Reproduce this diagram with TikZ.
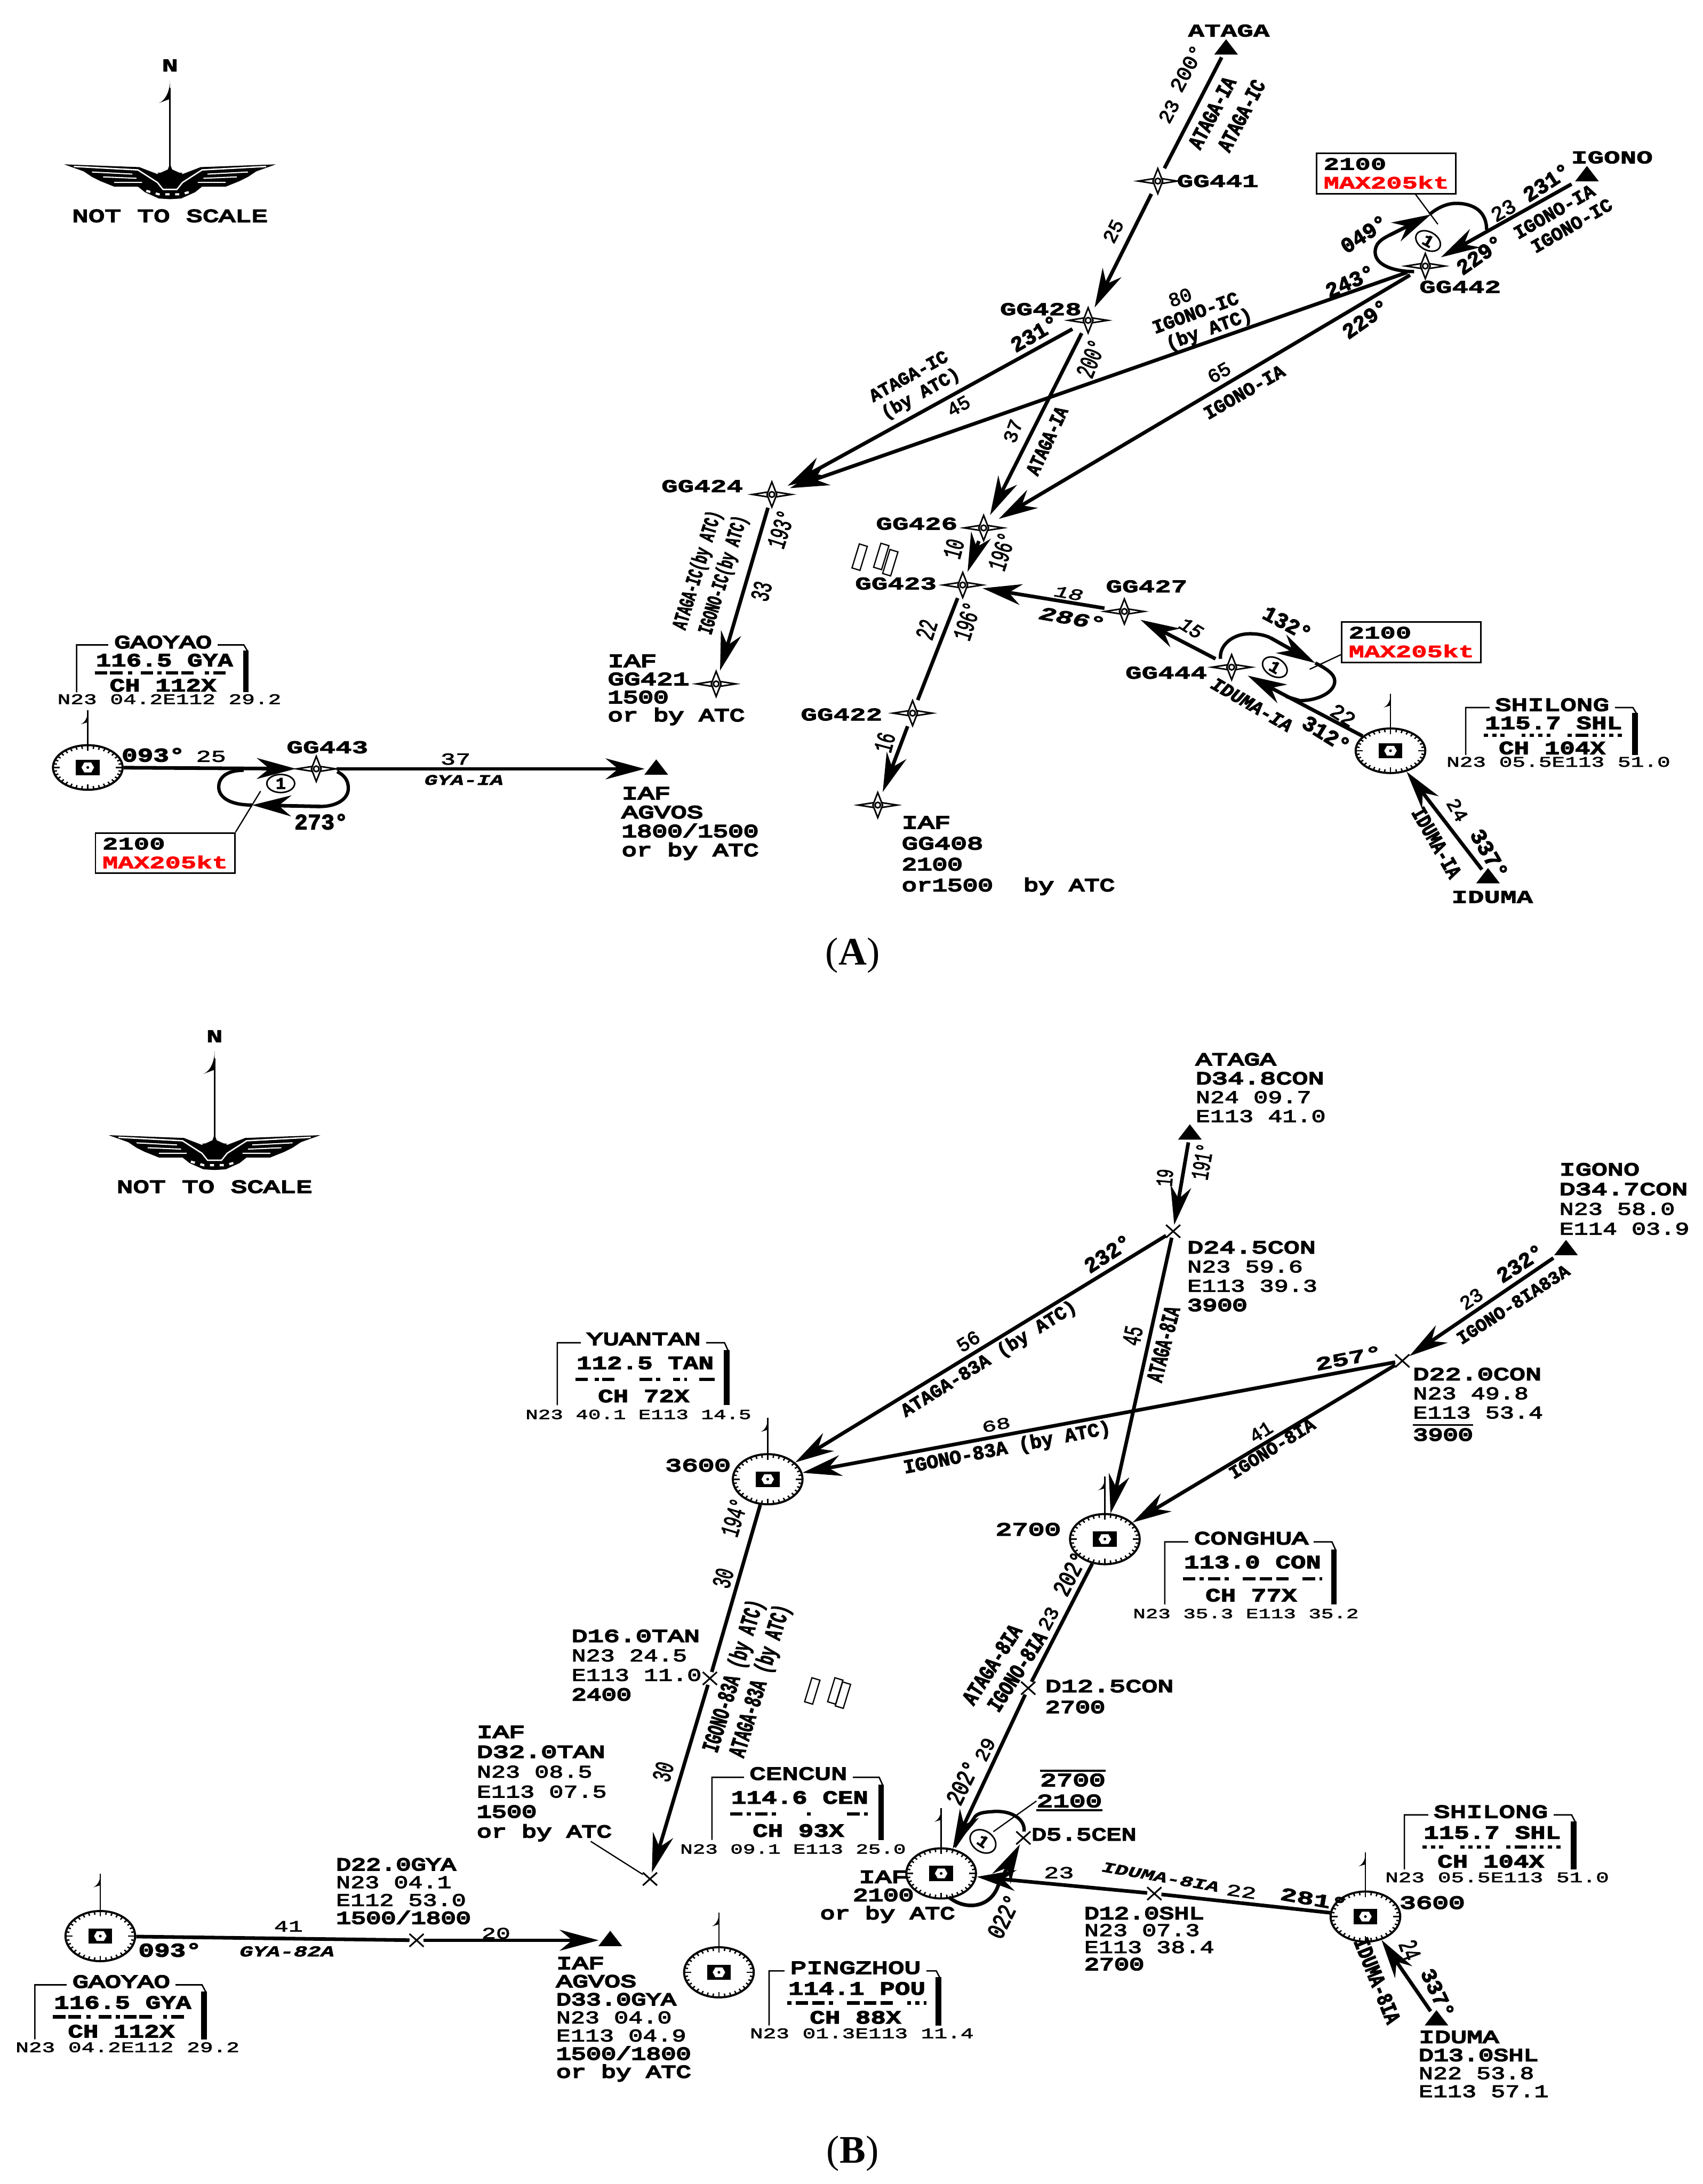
\documentclass[tikz,border=0pt]{standalone}
\usepackage{fontspec}
\usepackage{tikz}
\usetikzlibrary{calc,shapes.geometric,shapes.misc,arrows.meta}
\setmainfont{Liberation Serif}
\newfontfamily\chartfont{Liberation Mono}[FakeStretch=1.5,FakeBold=2.5]
\newfontfamily\midfont{Liberation Mono}[FakeStretch=1.5,FakeBold=7]
\newfontfamily\condfont{Liberation Mono}[FakeStretch=1.4,FakeBold=7]
\newfontfamily\coordfont{Liberation Mono}[FakeStretch=1.35,FakeBold=3.5]
\newfontfamily\rotfont{Liberation Mono}[FakeBold=3]
\newfontfamily\steepfont{Liberation Mono}[FakeStretch=0.75,FakeBold=3]
\newfontfamily\tallfont{Liberation Mono}[FakeStretch=0.6,FakeBold=2]
\tikzset{
  flat/.style={inner sep=0pt,font=\chartfont\fontsize{#1}{#1}\selectfont},
  block/.style 2 args={inner sep=0pt,anchor=north west,align=left,font=\midfont\fontsize{#1}{#2}\selectfont},
  along/.style={inner sep=0pt,font=\rotfont\fontsize{#1}{#1}\selectfont},
  steep/.style={inner sep=0pt,font=\steepfont\fontsize{#1}{#1}\selectfont},
  tall/.style={inner sep=0pt,font=\tallfont\fontsize{#1}{#1}\selectfont},
  arr/.style={-{Stealth[length=28pt,width=15pt,inset=9pt]},line width=2.6pt},
  leg/.style={line width=2.6pt},
  holdline/.style={line width=2.4pt},
  leader/.style={line width=0.9pt},
  fixpt/.style={ellipse,minimum width=29pt,minimum height=19pt,inner sep=0pt},
  fixline/.style={line width=1.1pt,fill=white},
  xfix/.style={cross out,draw,line width=1.2pt,minimum width=9pt,minimum height=8pt,inner sep=0pt},
  apex/.style={isosceles triangle,isosceles triangle stretches,shape border rotate=90,fill=black,minimum width=17pt,minimum height=11pt,inner sep=0pt,outer sep=2pt},
  rose/.style={ellipse,draw,line width=1.5pt,minimum width=50pt,inner sep=0pt},
  holdbox/.style={draw,line width=1.1pt,fill=white,minimum width=100pt,minimum height=29pt,align=left,inner sep=3pt,font=\chartfont\bfseries\fontsize{12.5}{13.5}\selectfont},
  turnno/.style={ellipse,draw,line width=1.1pt,minimum width=19pt,minimum height=13pt,inner sep=0pt,font=\rotfont\bfseries\fontsize{12}{12}\selectfont},
  runway/.style={draw,line width=0.9pt,minimum width=6pt,minimum height=18pt,inner sep=0pt,rotate=-17},
}
\newcommand{\fixmark}[2]{%
  \node[fixpt] (#1) at (#2) {};
  \draw[fixline,shift={(#1.center)}] (-14,0) -- (0,-2.2) -- (14,0) -- (0,2.2) -- cycle;
  \draw[fixline,shift={(#1.center)}] (-3.5,0) -- (0,-9) -- (3.5,0) -- (0,9) -- cycle;
  \draw[fixline,shift={(#1.center)}] (0,0) circle (2);
}
% name, position, half height, mast
\newcommand{\station}[4]{%
  \node[rose,minimum height=#3*2pt] (#1) at (#2) {};
  \foreach \a in {0,10,...,350} \draw[line width=1pt,shift={(#1.center)}] (\a:25 and #3) -- (\a:22.5 and #3-2.5);
  \foreach \a in {0,90,180,270} \draw[line width=1pt,shift={(#1.center)}] (\a:25 and #3) -- (\a:20 and #3-4);
  \fill[shift={(#1.center)}] (-8.5,-5.5) rectangle (8.5,5.5);
  \fill[white,shift={(#1.center)}] (-4.5,0) -- (-2.5,-3.5) -- (2.5,-3.5) -- (4.5,0) -- (2.5,3.5) -- (-2.5,3.5) -- cycle;
  \fill[shift={(#1.center)}] (0,0) circle (1);
  \draw[line width=0.9pt,shift={(#1.center)}] (0,-#3) -- (0,-#4);
  \fill[shift={(#1.center)}] (0,-#4) .. controls (0,-#4+4) and (-1,-#4+8) .. (-5,-#4+10) -- (0,-#4+8.5) -- cycle;
}
% name, left, top, height factor, title, frequency, channel, position, morse
\newcommand{\navbox}[9]{%
  \begin{scope}[shift={(#2,#3)},y=-#4pt]
    \draw[line width=1pt] (0,34) -- (0,0) -- (120,0) -- (123,5);
    \draw[line width=4pt] (121.5,4) -- (121.5,34);
    \node[flat=13,fill=white,inner xsep=4pt] (#1t) at (62,-2) {\midfont #5};
    \node[flat=13.5] (#1f) at (63,11) {\coordfont\bfseries #6};
    \draw[line width=2.4pt,dash pattern=#9] (13,20) -- (113,20);
    \node[flat=13.5] (#1c) at (62,29) {\coordfont\bfseries #7};
    \node[flat=\gz,anchor=west] (#1g) at (\gx,39) {#8};
  \end{scope}
}
\newcommand{\northmark}[3]{%
  \begin{scope}[shift={(#2,#3)}]
    \node[flat=13] (#1n) at (0,-81) {\bfseries N};
    \draw[line width=1.2pt] (0,-65) -- (0,-5);
    \fill (0,-70.5) .. controls (0,-63) and (-3,-56) .. (-8,-54) -- (0,-57) -- cycle;
    \fill (-76,-10) -- (-22,-8) -- (-9,-3) -- (0,-7) -- (9,-3) -- (22,-8) -- (76,-10) -- (62,-5) -- (56,-1) -- (50,2) -- (40,6) -- (23,6) -- (18,10) -- (8,14.5) -- (0,15) -- (-8,14.5) -- (-18,10) -- (-23,6) -- (-40,6) -- (-50,2) -- (-56,-1) -- (-62,-5) -- cycle;
    \draw[white,line width=1pt] (-69,-8.5) -- (-23,-6) -- (-9,3) -- (-5,8) -- (5,8) -- (9,3) -- (23,-6) -- (69,-8.5);
    \draw[white,line width=0.8pt] (-56,-4.5) -- (-27,-3) (-48,-1) -- (-24,0) (-40,3) -- (-20,3) (56,-4.5) -- (27,-3) (48,-1) -- (24,0) (40,3) -- (20,3);
    \draw[white,line width=1.6pt,dash pattern=on 3pt off 4pt] (-17,9) -- (-8,11.5) -- (8,11.5) -- (17,9);
    \node[star,star points=5,star point ratio=2.4,fill=black,minimum size=19pt,inner sep=0pt] (#1s) at (0,-1) {};
    \node[flat=13] (#1l) at (0,27) {\midfont NOT~TO~SCALE};
  \end{scope}
}
\def\gx{-14}
\def\gz{10.5}
\begin{document}
\begin{tikzpicture}[x=1pt,y=-1pt]
  \useasboundingbox (0,0) rectangle (1222,1568);

  % (A)
  \northmark{na}{122}{128}
  \node[apex] (ataga) at (880,35) {};
  \node[apex] (igono) at (1139,126) {};
  \node[apex] (iduma) at (1068,630) {};
  \node[apex] (agvos) at (471,552) {};
  \fixmark{gg441}{831,130}
  \fixmark{gg428}{781,230}
  \fixmark{gg442}{1023,191}
  \fixmark{gg424}{554,355}
  \fixmark{gg426}{706,379}
  \fixmark{gg423}{691,420}
  \fixmark{gg427}{807,439}
  \fixmark{gg444}{884,479}
  \fixmark{gg421}{514,491}
  \fixmark{gg422}{655,512}
  \fixmark{gg408}{630,578}
  \fixmark{gg443}{227,552}
  \station{gyaa}{63,551}{16}{41}
  \station{shla}{998,539}{16}{41}
  \navbox{gyb}{55}{463}{1}{GAOYAO}{116.5~GYA}{CH~112X}{N23~04.2E112~29.2}{on 9pt off 2pt on 9pt off 4pt on 3pt off 6pt on 9pt off 3pt on 3pt off 3pt on 9pt off 2pt on 9pt off 8pt on 3pt off 3pt on 9pt}
  \navbox{shb}{1052}{508}{1}{SHILONG}{115.7~SHL}{CH~104X}{N23~05.5E113~51.0}{on 3pt off 3pt on 3pt off 3pt on 3pt off 12pt on 3pt off 3pt on 3pt off 3pt on 3pt off 3pt on 3pt off 12pt on 3pt off 3pt on 9pt off 3pt on 3pt off 3pt on 3pt}

  \draw[leg] (ataga) -- (gg441);
  \draw[arr] (gg441) -- (gg428);
  \draw[arr] (gg428) -- (gg424);
  \draw[arr] (gg428) -- (gg426);
  \draw[arr] (gg442) -- (gg424);
  \draw[arr] (gg442) -- (gg426);
  \draw[arr] (igono) -- (gg442);
  \draw[arr] (gg426) -- (gg423);
  \draw[leg] (gg423) -- (gg422);
  \draw[arr] (gg422) -- (gg408);
  \draw[arr] (gg424) -- (gg421);
  \draw[arr] (gg427) -- (gg423);
  \draw[arr] (gg444) -- (gg427);
  \draw[arr] (shla) -- (gg444);
  \draw[arr] (iduma) -- (shla);
  \draw[arr] (gyaa) -- (gg443);
  \draw[arr] (gg443) -- (agvos);

  % holding patterns
  \draw[holdline] (1015,195) .. controls (1002,195) and (987,191) .. (987,181) .. controls (987,175) and (991,172) .. (997,169);
  \draw[arr] (997,169) -- (1027,154);
  \draw[holdline] (1026,154) .. controls (1033,148) and (1040,146) .. (1045,146) .. controls (1058,146) and (1067,152) .. (1067,165);
  \node[turnno,rotate=-30] (t1a) at (1025,173) {1};
  \node[holdbox] (hb1) at (995,124.5) {2100\\\textcolor{red}{MAX205kt}};
  \coordinate (hl1) at (1032,161);
  \draw[leader] ([xshift=21pt]hb1.south) -- (hl1);

  \draw[holdline] (876,473) .. controls (875,463) and (885,455) .. (897,455) .. controls (903,455) and (908,456) .. (912,458);
  \draw[arr] (912,458) -- (944,476);
  \draw[holdline] (944,476) .. controls (952,480) and (958,484) .. (958,489) .. controls (958,497) and (946,503) .. (933,503) -- (923,500);
  \node[turnno,rotate=-30] (t1b) at (915,479) {1};
  \node[holdbox] (hb2) at (1013,461) {2100\\\textcolor{red}{MAX205kt}};
  \coordinate (hl2) at (940,480.5);
  \draw[leader] (hb2.west |- 0,470) -- (hl2);

  \draw[holdline] (242,554) .. controls (248,557) and (250,561) .. (250,566) .. controls (250,574) and (241,579) .. (230,579);
  \draw[arr] (230,579) -- (181,578);
  \draw[holdline] (181,578) .. controls (166,578) and (157,573) .. (157,565) .. controls (157,558) and (163,553) .. (175,553);
  \node[turnno,minimum width=20pt,minimum height=13pt] (t1c) at (201.5,562.5) {1};
  \node[holdbox] (hb3) at (118.5,612.5) {2100\\\textcolor{red}{MAX205kt}};
  \coordinate (hl3) at (187,568);
  \draw[leader] (hb3.north east) -- (hl3);

  % waypoint names
  \node[flat=13] (nat) at (882,22) {\bfseries ATAGA};
  \node[flat=13] (nig) at (1157,113) {\bfseries IGONO};
  \node[flat=13] (nid) at (1071,644) {\bfseries IDUMA};
  \node[flat=13] (n441) at (874,130) {\bfseries GG441};
  \node[flat=13] (n428) at (747,222) {\bfseries GG428};
  \node[flat=13] (n442) at (1048,206) {\bfseries GG442};
  \node[flat=13] (n424) at (504,349) {\bfseries GG424};
  \node[flat=13] (n426) at (658,376) {\bfseries GG426};
  \node[flat=13] (n423) at (643,419) {\bfseries GG423};
  \node[flat=13] (n427) at (823,421) {\bfseries GG427};
  \node[flat=13] (n444) at (837,483) {\bfseries GG444};
  \node[flat=13] (n422) at (604,513) {\bfseries GG422};
  \node[flat=13] (n443) at (235,536.5) {\bfseries GG443};
  \node[block={13}{13}] (b421) at (436,470) {IAF\\GG421\\\condfont 1500\\\condfont or~by~ATC};
  \node[block={13}{15}] (b408) at (647,586) {IAF\\GG408\\\condfont 2100\\\condfont or1500~~by~ATC};
  \node[block={13}{13.6}] (bagv) at (446,565) {IAF\\AGVOS\\\condfont 1800/1500\\\condfont or~by~ATC};

  % runway marks
  \node[runway] (rw1) at (617,400) {};
  \node[runway] (rw2) at (632.5,399.5) {};
  \node[runway] (rw3) at (639,404) {};

  % course and distance labels
  \node[along=14,rotate=62] (l1) at (839,80) {23};
  \node[along=15,rotate=62] (l2) at (852,49) {200°};
  \node[steep=15.5,rotate=62] (l3) at (870,81) {\bfseries ATAGA-IA};
  \node[steep=15.5,rotate=62] (l4) at (891,83) {\bfseries ATAGA-IC};
  \node[along=14,rotate=63] (l5) at (799,166) {25};
  \node[along=15.5,rotate=30] (l6) at (742.5,239.5) {\bfseries 231°};
  \node[along=13,rotate=29] (l7) at (652,270) {\bfseries ATAGA-IC};
  \node[along=13,rotate=29] (l8) at (661,283) {\bfseries (by~ATC)};
  \node[along=14,rotate=29] (l9) at (688,291.5) {45};
  \node[tall=19,rotate=68] (l10) at (783,257.5) {200°};
  \node[along=14,rotate=70] (l11) at (727,309.5) {37};
  \node[steep=14.5,rotate=65] (l12) at (751.5,316.5) {\bfseries ATAGA-IA};
  \node[along=14,rotate=20] (l13) at (847,213.5) {80};
  \node[along=13.5,rotate=20] (l14) at (858,224.5) {\bfseries IGONO-IC};
  \node[along=13.5,rotate=20] (l15) at (868,237) {\bfseries (by~ATC)};
  \node[along=15.5,rotate=24] (l16) at (969,202) {\bfseries 243°};
  \node[along=15.5,rotate=35] (l17) at (980,229) {\bfseries 229°};
  \node[along=14,rotate=30] (l18) at (875,267.5) {65};
  \node[along=13.5,rotate=30] (l19) at (893,281.5) {\bfseries IGONO-IA};
  \node[along=15.5,rotate=33] (l20) at (979,168) {\bfseries 049°};
  \node[along=15,rotate=30] (l21) at (1079,151) {23};
  \node[along=15.5,rotate=33] (l22) at (1110,131) {\bfseries 231°};
  \node[along=13.5,rotate=30] (l23) at (1115.5,152) {\bfseries IGONO-IA};
  \node[along=13.5,rotate=30] (l24) at (1128,162) {\bfseries IGONO-IC};
  \node[along=15.5,rotate=35] (l25) at (1062,183) {\bfseries 229°};
  \node[tall=15.3,rotate=73] (l26) at (501,409.5) {\bfseries ATAGA-IC(by~ATC)};
  \node[tall=15.3,rotate=73] (l27) at (519.5,413) {\bfseries IGONO-IC(by~ATC)};
  \node[tall=19,rotate=72] (l28) at (560.5,380) {193°};
  \node[tall=19,rotate=75] (l29) at (546.5,424.5) {33};
  \node[tall=19,rotate=75] (l30) at (684.5,394) {10};
  \node[tall=19,rotate=72] (l31) at (719,396) {196°};
  \node[tall=19,rotate=72] (l32) at (694,446) {196°};
  \node[tall=19,rotate=72] (l33) at (665,452) {22};
  \node[tall=19,rotate=75] (l34) at (635,533) {16};
  \node[flat=11.5,rotate=-10] (l35) at (767,426) {\itshape 18};
  \node[flat=13.5,rotate=-10] (l36) at (770,444) {\bfseries\itshape 286°};
  \node[along=14,rotate=-32] (l37) at (855,451) {\itshape 15};
  \node[along=15.5,rotate=-28] (l38) at (924,447.5) {\bfseries 132°};
  \node[along=13.5,rotate=-30] (l39) at (898.5,506) {\bfseries\itshape IDUMA-IA};
  \node[along=15,rotate=-32] (l40) at (964,513.5) {22};
  \node[along=15.5,rotate=-32] (l41) at (952,527) {\bfseries 312°};
  \node[along=14,rotate=-60] (l42) at (1046,581.5) {24};
  \node[along=16,rotate=-60] (l43) at (1069,613) {\bfseries 337°};
  \node[steep=15.5,rotate=-60] (l44) at (1031,605) {\bfseries IDUMA-IA};
  \node[flat=14] (l45) at (110,542) {\coordfont\bfseries 093°};
  \node[flat=12] (l46) at (151.5,543) {25};
  \node[along=16] (l47) at (230.5,590) {\bfseries 273°};
  \node[flat=12] (l48) at (327,545) {37};
  \node[flat=10.5] (l49) at (333,560) {\bfseries\itshape GYA-IA};

  \node[font=\fontsize{28}{28}\selectfont,inner sep=0pt] (capa) at (612,686) {(\textbf{A})};

  % (B)
  \northmark{nb}{154}{825}
  \node[apex] (atagb) at (854,814) {};
  \node[apex] (igonb) at (1124,897) {};
  \node[apex] (idumb) at (1031,1450) {};
  \node[apex] (agvob) at (438,1393) {};
  \node[xfix] (d245) at (842,884) {};
  \node[xfix] (d220) at (1006.5,977) {};
  \node[xfix] (d160) at (509.5,1205) {};
  \node[xfix] (d320) at (466.5,1349) {};
  \node[xfix] (d125) at (738,1212) {};
  \node[xfix] (d055) at (734.5,1319.5) {};
  \node[xfix] (d120) at (828.5,1359.5) {};
  \node[xfix] (d22g) at (299,1393) {};
  \station{tan}{551,1062}{18}{44}
  \station{con}{793,1105}{18}{45}
  \station{cen}{675.5,1345}{18}{47}
  \station{shlb}{980,1376}{18}{46}
  \station{pou}{516,1416}{18}{43}
  \station{gyab}{72,1390}{18}{45}
  \def\gx{-23}\def\gz{10}
  \navbox{tnb}{400}{964}{1.32}{YUANTAN}{112.5~TAN}{CH~72X}{N23~40.1~E113~14.5}{on 9pt off 5pt on 3pt off 2pt on 9pt off 18pt on 9pt off 3pt on 3pt}
  \navbox{cob}{836}{1107}{1.32}{CONGHUA}{113.0~CON}{CH~77X}{N23~35.3~E113~35.2}{on 9pt off 3pt on 3pt off 3pt on 9pt off 3pt on 3pt off 10pt on 9pt off 3pt on 9pt off 3pt on 9pt off 10pt on 9pt off 3pt on 3pt}
  \navbox{ceb}{511}{1276}{1.32}{CENCUN}{114.6~CEN}{CH~93X}{N23~09.1~E113~25.0}{on 9pt off 3pt on 3pt off 3pt on 9pt off 3pt on 3pt off 22pt on 3pt off 26pt on 9pt off 3pt on 3pt}
  \def\gx{-14}\def\gz{10.5}
  \navbox{sbb}{1008}{1303}{1.15}{SHILONG}{115.7~SHL}{CH~104X}{N23~05.5E113~51.0}{on 3pt off 3pt on 3pt off 3pt on 3pt off 12pt on 3pt off 3pt on 3pt off 3pt on 3pt off 3pt on 3pt off 12pt on 3pt off 3pt on 9pt off 3pt on 3pt off 3pt on 3pt}
  \navbox{pob}{552}{1415}{1.15}{PINGZHOU}{114.1~POU}{CH~88X}{N23~01.3E113~11.4}{on 3pt off 3pt on 9pt off 3pt on 9pt off 3pt on 3pt off 10pt on 9pt off 3pt on 9pt off 3pt on 9pt off 10pt on 3pt off 3pt on 3pt off 3pt on 9pt}
  \navbox{gbb}{25}{1425}{1.15}{GAOYAO}{116.5~GYA}{CH~112X}{N23~04.2E112~29.2}{on 9pt off 2pt on 9pt off 4pt on 3pt off 6pt on 9pt off 3pt on 3pt off 3pt on 9pt off 2pt on 9pt off 8pt on 3pt off 3pt on 9pt}

  \draw[arr] (atagb) -- (d245);
  \draw[arr] (d245) -- (tan);
  \draw[arr] (d245) -- (con);
  \draw[arr] (igonb) -- (d220);
  \draw[arr] (d220) -- (tan);
  \draw[arr] (d220) -- (con);
  \draw[leg] (tan) -- (d160);
  \draw[arr] (d160) -- (d320);
  \draw[leg] (con) -- (d125);
  \draw[arr] (d125) -- (cen);
  \draw[arr] (d120) -- (cen);
  \draw[leg] (shlb) -- (d120);
  \draw[arr] (idumb) -- (shlb);
  \draw[leg] (gyab) -- (d22g);
  \draw[arr] (d22g) -- (agvob);

  % hold at D5.5
  \draw[arr] (681,1362) .. controls (693,1372) and (712,1370) .. (717,1352) -- (d055);
  \draw[holdline] (d055) .. controls (736,1306) and (726,1300) .. (714,1300.5) .. controls (708,1301) and (703,1301) .. (700,1304) -- (685,1326);
  \node[turnno,minimum width=20pt,minimum height=15pt,rotate=-35] (t1d) at (705.5,1322) {1};
  \node[flat=13] (a27) at (770,1278) {\midfont 2700};
  \node[flat=13] (a21) at (767.5,1293) {\midfont 2100};
  \draw[line width=1.6pt] ([yshift=2pt]a27.north west) -- ([yshift=2pt]a27.north east);
  \draw[line width=1.6pt] ([yshift=-2pt]a21.south west) -- ([yshift=-2pt]a21.south east);
  \coordinate (hl4) at (713,1315);
  \draw[leader] (a21.west) -- (hl4);

  \node[block={12.8}{13.6}] (bat) at (858,756) {ATAGA\\D34.8CON\\\coordfont N24~09.7\\\coordfont E113~41.0};
  \node[block={12.8}{14.2}] (big) at (1119,835) {IGONO\\D34.7CON\\\coordfont N23~58.0\\\coordfont E114~03.9};
  \node[block={12.8}{13.8}] (b245) at (852,891) {D24.5CON\\\coordfont N23~59.6\\\coordfont E113~39.3\\\condfont 3900};
  \node[block={12.8}{13.8}] (b220) at (1014,982) {D22.0CON\\\coordfont N23~49.8\\\coordfont E113~53.4};
  \node[flat=12.8,anchor=west] (a39) at (1014,1030) {\condfont 3900};
  \draw[line width=1.2pt] ([yshift=2.5pt]a39.north west) -- ([yshift=2.5pt]a39.north east);
  \node[block={12.8}{14}] (b160) at (410,1170) {D16.0TAN\\\coordfont N23~24.5\\\coordfont E113~11.0\\\condfont 2400};
  \node[block={12.8}{14.3}] (b320) at (342,1239) {IAF\\D32.0TAN\\\coordfont N23~08.5\\\coordfont E113~07.5\\\condfont 1500\\\condfont or~by~ATC};
  \coordinate (hl5) at (424,1322);
  \draw[leader] (hl5) -- (d320);
  \node[block={12.8}{15}] (b125) at (750,1206) {D12.5CON\\\condfont 2700};
  \node[block={12.8}{12.2}] (b120) at (778,1369) {\condfont D12.0SHL\\\coordfont N23~07.3\\\coordfont E113~38.4\\\condfont 2700};
  \node[block={12.8}{13}] (bidu) at (1018,1458) {IDUMA\\\condfont D13.0SHL\\\coordfont N22~53.8\\\coordfont E113~57.1};
  \node[block={12.8}{12.8}] (bd22) at (241,1334) {\condfont D22.0GYA\\\coordfont N23~04.1\\\coordfont E112~53.0\\\condfont 1500/1800};
  \node[block={12.8}{13}] (bagw) at (399,1405) {IAF\\AGVOS\\\condfont D33.0GYA\\\coordfont N23~04.0\\\coordfont E113~04.9\\\condfont 1500/1800\\\condfont or~by~ATC};
  \node[flat=13] (biaf) at (634,1347.5) {\midfont IAF};
  \node[flat=13] (b2100) at (634,1360.5) {\condfont 2100};
  \node[flat=12.8] (borb) at (637,1374.5) {\condfont or~by~ATC};
  \node[flat=12.8] (nd55) at (778,1317) {\condfont D5.5CEN};
  \node[flat=13] (a36a) at (501,1052) {\midfont 3600};
  \node[flat=13] (a27c) at (738,1098) {\midfont 2700};
  \node[flat=13] (a36b) at (1028,1366) {\midfont 3600};

  % runway marks
  \node[runway] (rw4) at (583,1214) {};
  \node[runway] (rw5) at (599.5,1214) {};
  \node[runway] (rw6) at (605,1217) {};

  % course and distance labels
  \node[tall=17,rotate=85] (m1) at (836,845.5) {19};
  \node[tall=18,rotate=80] (m2) at (863,834) {191°};
  \node[along=15.5,rotate=33] (m3) at (795,900) {\bfseries 232°};
  \node[along=14,rotate=32] (m4) at (695,963) {56};
  \node[along=13.5,rotate=32] (m5) at (710,976) {\bfseries ATAGA-83A~(by~ATC)};
  \node[tall=19,rotate=78] (m6) at (813,959) {45};
  \node[tall=17,rotate=76] (m7) at (835,965) {\bfseries ATAGA-8IA};
  \node[along=15.5,rotate=33] (m8) at (1091,907) {\bfseries 232°};
  \node[along=14,rotate=34] (m9) at (1056,932.5) {23};
  \node[along=13,rotate=33] (m10) at (1086,936.5) {\bfseries IGONO-8IA83A};
  \node[flat=13.5,rotate=11] (m11) at (968,975) {\bfseries 257°};
  \node[flat=11.5,rotate=11] (m12) at (715,1023) {68};
  \node[along=14,rotate=11] (m13) at (723,1040) {\bfseries IGONO-83A~(by~ATC)};
  \node[along=14,rotate=32] (m14) at (905,1028) {41};
  \node[along=13,rotate=32] (m15) at (913,1040) {\bfseries IGONO-8IA};
  \node[tall=19,rotate=73] (m16) at (527,1089.5) {194°};
  \node[tall=19,rotate=74] (m17) at (519,1133) {30};
  \node[tall=19,rotate=74] (m18) at (476,1272) {30};
  \node[tall=17.5,rotate=73] (m19) at (527,1203.5) {\bfseries IGONO-83A~(by~ATC)};
  \node[tall=17.5,rotate=73] (m20) at (546,1207) {\bfseries ATAGA-83A~(by~ATC)};
  \node[steep=18,rotate=62] (m21) at (768,1130) {202°};
  \node[along=14,rotate=62] (m22) at (752.5,1162) {23};
  \node[steep=16,rotate=57] (m23) at (712,1195) {\bfseries ATAGA-8IA};
  \node[steep=16,rotate=57] (m24) at (730,1200) {\bfseries IGONO-8IA};
  \node[steep=18,rotate=64] (m25) at (691,1280) {202°};
  \node[along=14,rotate=64] (m26) at (707,1256) {29};
  \node[steep=18,rotate=64] (m27) at (720.5,1376) {022°};
  \node[flat=12] (m28) at (760,1344.5) {23};
  \node[flat=10.5,rotate=-10] (m29) at (833,1347.5) {\bfseries\itshape IDUMA-8IA};
  \node[flat=12,rotate=-8] (m30) at (891,1358) {22};
  \node[flat=13.5,rotate=-10] (m31) at (943,1363.5) {\bfseries 281°};
  \node[tall=19,rotate=-70] (m32) at (1012,1400) {24};
  \node[along=15.5,rotate=-65] (m33) at (1032,1431) {\bfseries 337°};
  \node[steep=16,rotate=-68] (m34) at (988.5,1422) {\bfseries IDUMA-8IA};
  \node[flat=14] (m35) at (122,1400) {\coordfont\bfseries 093°};
  \node[flat=11.5] (m36) at (207,1383) {41};
  \node[flat=10.8] (m37) at (206,1401) {\bfseries\itshape GYA-82A};
  \node[flat=11.5] (m38) at (356,1388) {20};

  \node[font=\fontsize{28}{28}\selectfont,inner sep=0pt] (capb) at (612,1546) {(\textbf{B})};
\end{tikzpicture}
\end{document}
